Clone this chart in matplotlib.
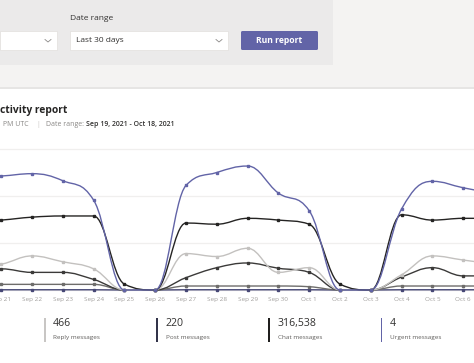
import numpy as np
import matplotlib
matplotlib.use("Agg")
import matplotlib.pyplot as plt
from matplotlib.patches import Rectangle, FancyBboxPatch, PathPatch
from matplotlib.path import Path

plt.rcParams['font.family'] = ['Open Sans', 'DejaVu Sans']

# dates shown on the x axis (Sep 20 .. Oct 7, partly outside the crop)
days = ["Sep 20", "Sep 21", "Sep 22", "Sep 23", "Sep 24", "Sep 25", "Sep 26",
        "Sep 27", "Sep 28", "Sep 29", "Sep 30", "Oct 1", "Oct 2", "Oct 3",
        "Oct 4", "Oct 5", "Oct 6", "Oct 7"]

# daily values (messages)
s_purple = [9600, 9700, 9900, 9300, 7650, 0, 0, 8900, 10000, 10550, 8250, 6750, 0, 0, 6900, 9250, 8700, 8200]
s_black = [5800, 5950, 6200, 6300, 6300, 500, 0, 5700, 5600, 6100, 5950, 5600, 500, 0, 6400, 5950, 6100, 6100]
s_light = [2000, 2200, 2900, 2400, 1800, 0, 0, 3100, 2850, 3550, 1500, 1900, 0, 0, 1300, 2900, 2550, 2200]
s_dark = [1800, 1800, 1500, 1500, 900, 0, 0, 1050, 1900, 2300, 1850, 1500, 0, 0, 1100, 1900, 1200, 1200]
s_gray = [480, 480, 480, 480, 480, 0, 0, 340, 340, 340, 340, 280, 0, 0, 340, 340, 340, 340]
s_navy = [20, 20, 20, 20, 20, 0, 0, 20, 20, 20, 20, 20, 0, 0, 20, 20, 20, 20]

series = [
    (s_navy, "#464775"),
    (s_gray, "#6e6d6b"),
    (s_dark, "#3b3a39"),
    (s_light, "#c3c1bf"),
    (s_black, "#252423"),
    (s_purple, "#6264a7"),
]

# summary tiles
tot_values = ["466", "220", "316,538", "4"]
tot_labels = ["Reply messages", "Post messages", "Chat messages", "Urgent messages"]
tot_colors = ["#c8c6c4", "#33344a", "#201f1e", "#6264a7"]

W, H = 474, 363
fig = plt.figure(figsize=(W / 100, H / 100), dpi=100)
fig.patch.set_facecolor("white")

# background layer in pixel coordinates
bg = fig.add_axes([0, 0, 1, 1])
bg.set_xlim(0, W)
bg.set_ylim(H, 0)
bg.axis("off")
bg.add_patch(Rectangle((0, 0), W, 88, color="#f4f3f2", lw=0))
bg.add_patch(Rectangle((0, 0), 333, 65, color="#ebeaea", lw=0))
bg.add_patch(Rectangle((0, 87), W, 1.5, color="#e6e5e4", lw=0))

bg.text(70, 18, "Date range", fontsize=6, color="#323130", va="center")
bg.add_patch(Rectangle((0, 31), 57, 19, facecolor="white", edgecolor="#e1dfdd", lw=0.5))
bg.add_patch(Rectangle((70, 31), 158, 19, facecolor="white", edgecolor="#e1dfdd", lw=0.5))
for cx in (48, 219):
    bg.plot([cx - 3, cx, cx + 3], [39.5, 42, 39.5], color="#8a8886", lw=0.6)
bg.text(76, 41, "Last 30 days", fontsize=6, color="#323130", va="center")
bg.add_patch(FancyBboxPatch((241, 31), 77, 19, boxstyle="round,pad=0,rounding_size=1.5",
                            facecolor="#6264a7", edgecolor="none"))
bg.text(279.5, 40.5, "Run report", fontsize=6.2, color="white", weight="bold",
        ha="center", va="center")

bg.text(0, 111, "ctivity report", fontsize=7.4, weight="bold", color="#252423", va="center")
bg.text(3, 125, "PM UTC", fontsize=5, color="#8a8886", va="center")
bg.text(36, 125, "|", fontsize=5, color="#c8c6c4", va="center")
bg.text(46, 125, "Date range:", fontsize=5, color="#8a8886", va="center")
bg.text(86, 125, "Sep 19, 2021 - Oct 18, 2021", fontsize=5, color="#323130",
        weight="semibold", va="center")

for i in range(4):
    x0 = 44 + 112.2 * i
    bg.add_patch(Rectangle((x0, 318), 1.6, 24, color=tot_colors[i], lw=0))
    bg.text(x0 + 9, 323.5, tot_values[i], fontsize=7.6, color="#323130", va="center")
    bg.text(x0 + 9.5, 337, tot_labels[i], fontsize=4.6, color="#605e5c", va="center")

# chart axes: value 0 at y=290px, 4000 per 47px
step = 4000
px_per = 47 / step
top_px, bot_px = 143, 305
ax = fig.add_axes([0, 1 - bot_px / H, 1, (bot_px - top_px) / H])
x = np.arange(len(days))
ax.set_facecolor("none")
for s in ax.spines.values():
    s.set_visible(False)
ax.set_yticks([0, step, 2 * step, 3 * step])
ax.yaxis.grid(True, color="#f0efee", lw=0.9)
ax.tick_params(axis="y", left=False, labelleft=False)
ax.set_xticks(x)
ax.set_xticklabels(days, fontsize=4.6, color="#a19f9d")
ax.tick_params(axis="x", length=0, pad=-5.8)
ax.set_axisbelow(True)
ax.set_ylim(-(bot_px - 290) / px_per, (290 - top_px) / px_per)
ax.set_xlim(1 - 1.2 / 30.8, 1 + (W - 1.2) / 30.8)


def smooth_path(xs, ys, sm=1.5):
    # spline in the style of the web chart: control points clamped to neighbours
    n = len(xs)
    lc = [(xs[i], ys[i]) for i in range(n)]
    rc = [(xs[i], ys[i]) for i in range(n)]
    den = sm + 1
    for i in range(1, n - 1):
        px, py = xs[i - 1], ys[i - 1]
        cx, cy = xs[i], ys[i]
        nx, ny = xs[i + 1], ys[i + 1]
        lx, ly = (sm * cx + px) / den, (sm * cy + py) / den
        rx, ry = (sm * cx + nx) / den, (sm * cy + ny) / den
        corr = (ry - ly) * (rx - cx) / (rx - lx) + cy - ry
        ly += corr
        ry += corr
        if ly > py and ly > cy:
            ly = max(py, cy)
            ry = 2 * cy - ly
        elif ly < py and ly < cy:
            ly = min(py, cy)
            ry = 2 * cy - ly
        if ry > ny and ry > cy:
            ry = max(ny, cy)
            ly = 2 * cy - ry
        elif ry < ny and ry < cy:
            ry = min(ny, cy)
            ly = 2 * cy - ry
        lc[i] = (lx, ly)
        rc[i] = (rx, ry)
    verts = [(xs[0], ys[0])]
    codes = [Path.MOVETO]
    for i in range(1, n):
        verts += [rc[i - 1], lc[i], (xs[i], ys[i])]
        codes += [Path.CURVE4] * 3
    return Path(verts, codes)


for vals, col in series:
    ys = np.array(vals, dtype=float)
    ax.add_patch(PathPatch(smooth_path(x, ys), facecolor="none", edgecolor=col, lw=1.0,
                           capstyle="round", joinstyle="round"))
    ax.plot(x, ys, ls="none", marker="s", ms=1.8, color=col)

fig.savefig("out.png", dpi=100)
